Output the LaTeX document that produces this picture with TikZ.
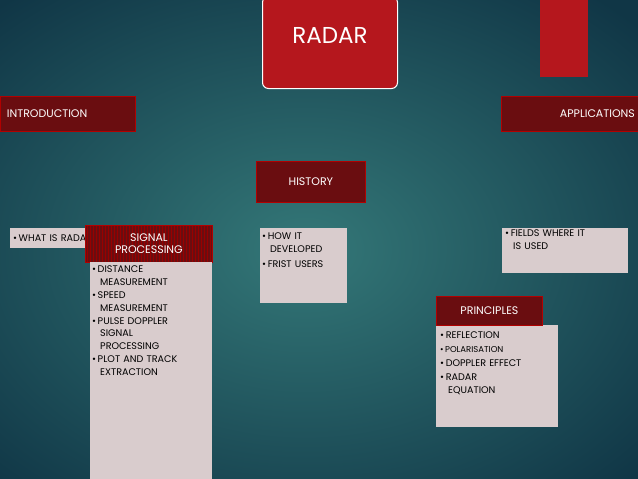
\documentclass[tikz,border=0pt]{standalone}
\usepackage{fontspec}
\setmainfont{Poppins}
\usetikzlibrary{patterns}
\definecolor{bgc}{HTML}{347878}
\definecolor{bgd}{HTML}{103646}
\definecolor{dred}{HTML}{6A0D10}
\definecolor{rred}{HTML}{B5171D}
\definecolor{pink}{HTML}{D9CCCD}
\tikzset{
  x=1pt,y=-1pt,
  hdr/.style={draw=red!70!black,line width=0.8pt,fill=dred,text=white,font=\fontsize{11}{13.5}\selectfont,inner sep=0pt,anchor=north west},
  body/.style={fill=pink,text=black,font=\fontsize{9.6}{12.8}\selectfont,anchor=north west,inner sep=0pt,align=left},
  txt/.style={body,fill=none},
}
\begin{document}
\begin{tikzpicture}
\useasboundingbox (0,0) rectangle (638,479);
\shade[inner color=bgc,outer color=bgd] (-150,-80) rectangle (760,579);
\fill[rred] (540,0) rectangle (588,77);
\node[draw=white,line width=1pt,fill=rred,rounded corners=6pt,minimum width=135pt,minimum height=92pt,anchor=north west,text=white,font=\fontsize{23}{26}\selectfont] (radar) at (262,-4) {\raisebox{14pt}{RADAR}};
\node[hdr,minimum width=135pt,minimum height=35pt,text width=130pt,align=left] (intro) at (0,96) {\hspace*{4pt}INTRODUCTION};
\node[hdr,minimum width=137pt,minimum height=35pt,align=right,text width=130pt] (app) at (501,96) {APPLICATIONS};
\node[hdr,minimum width=109pt,minimum height=41pt] (hist) at (256,161) {HISTORY};
\node[body,minimum width=124pt,minimum height=20pt,text width=124pt] (what) at (10,228) {\hspace*{3pt}\textbullet\,WHAT IS RADAR};
\node[hdr,minimum width=127pt,minimum height=37pt,preaction={fill=dred},pattern=vertical lines,pattern color=red!60!black] (sigh) at (85,225) {};
\node[hdr,draw=none,fill=none,minimum width=127pt,minimum height=37pt,align=center,text width=127pt,font=\fontsize{11}{12.5}\selectfont] at (85,225) {SIGNAL\\PROCESSING};
\node[body,minimum width=122pt,minimum height=217pt,text width=122pt] (sigb) at (90,262) {};
\node[txt,text width=120pt] at (92,266) {\textbullet\,DISTANCE\\\hspace*{8pt}MEASUREMENT\\\textbullet\,SPEED\\\hspace*{8pt}MEASUREMENT\\\textbullet\,PULSE DOPPLER\\\hspace*{8pt}SIGNAL\\\hspace*{8pt}PROCESSING\\\textbullet\,PLOT AND TRACK\\\hspace*{8pt}EXTRACTION};
\node[body,minimum width=87pt,minimum height=75pt,text width=87pt] (how) at (260,228) {};
\node[txt,text width=85pt] at (262,233) {\textbullet\,HOW IT\\\hspace*{8pt}DEVELOPED\\[2pt]\textbullet\,FRIST USERS};
\node[body,minimum width=126pt,minimum height=45pt,text width=126pt] (fields) at (502,228) {};
\node[txt,text width=120pt] at (505,230) {\textbullet\,FIELDS WHERE IT\\\hspace*{8pt}IS USED};
\node[body,minimum width=122pt,minimum height=102pt,text width=122pt] (prinb) at (436,325) {};
\node[hdr,minimum width=106pt,minimum height=29pt] (prinh) at (436,296) {PRINCIPLES};
\node[txt,text width=120pt] at (440,332) {\textbullet\,REFLECTION\\[1pt]{\fontsize{8.5}{10}\selectfont\textbullet\,POLARISATION}\\[1pt]\textbullet\,DOPPLER EFFECT\\[1pt]\textbullet\,RADAR\\\hspace*{8pt}EQUATION};
\end{tikzpicture}
\end{document}
